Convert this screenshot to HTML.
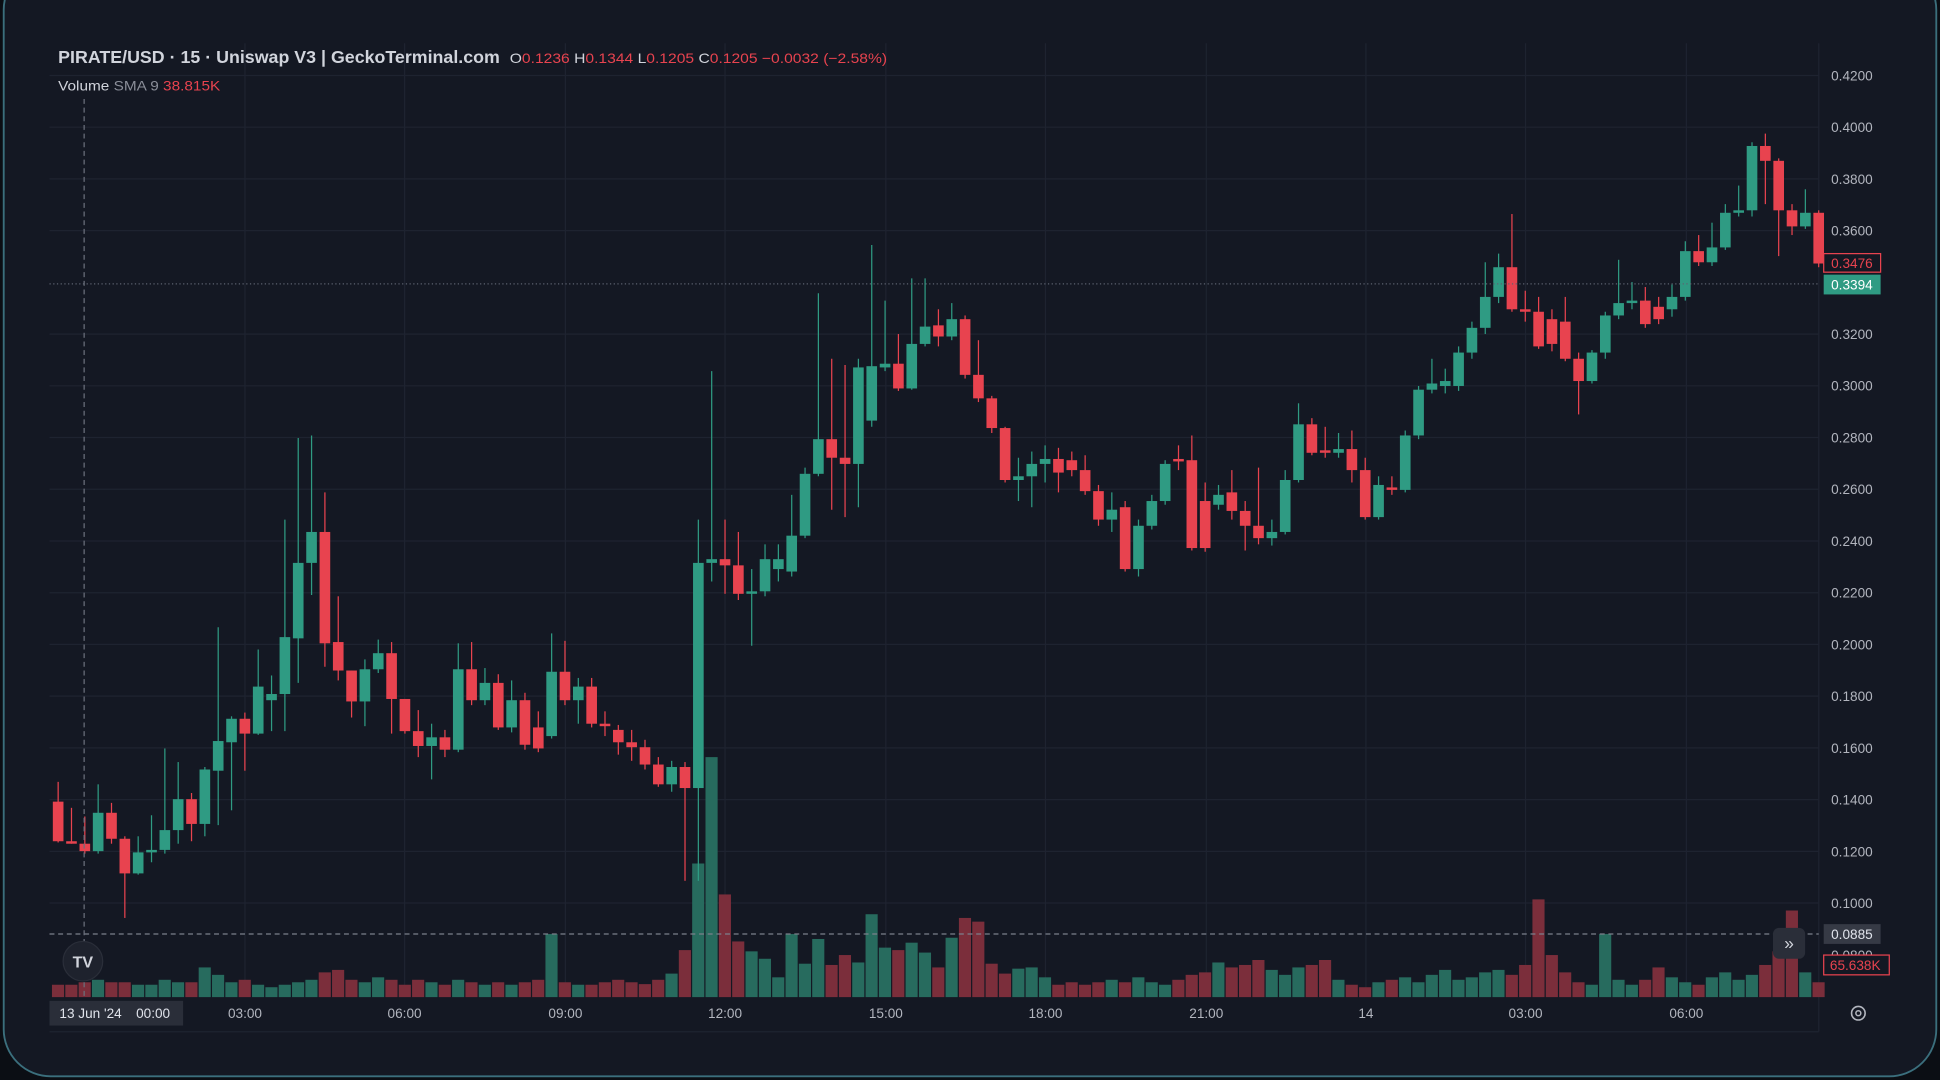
<!DOCTYPE html>
<html><head><meta charset="utf-8"><style>
html,body{margin:0;padding:0;background:#0b0e14;overflow:hidden}
svg{display:block}
text{font-family:"Liberation Sans",sans-serif}
</style></head><body>
<svg id="s" width="1940" height="1080" viewBox="0 0 1568 873" preserveAspectRatio="none" xmlns="http://www.w3.org/2000/svg">
<rect x="0" y="0" width="1568" height="873" fill="#0b0e14"/>
<rect x="3" y="-30" width="1562" height="900" rx="38" fill="#141823" stroke="#3b6f7d" stroke-width="1.5"/>
<g id="grid" stroke="#1e2330" stroke-width="1"></g>
<g id="vol"></g>
<g id="cd"></g>
<g id="ov"></g>
<g font-size="13" fill="#d1d4dc">
<text x="47" y="51" font-weight="bold" font-size="14" textLength="357" lengthAdjust="spacingAndGlyphs">PIRATE/USD · 15 · Uniswap V3 | GeckoTerminal.com</text>
<text x="412" y="51" font-size="11.5" textLength="305" lengthAdjust="spacingAndGlyphs"><tspan fill="#d1d4dc">O</tspan><tspan fill="#e8434f">0.1236 </tspan><tspan fill="#d1d4dc">H</tspan><tspan fill="#e8434f">0.1344 </tspan><tspan fill="#d1d4dc">L</tspan><tspan fill="#e8434f">0.1205 </tspan><tspan fill="#d1d4dc">C</tspan><tspan fill="#e8434f">0.1205 −0.0032 (−2.58%)</tspan></text>
<text x="47" y="73" font-size="11.5" textLength="131" lengthAdjust="spacingAndGlyphs"><tspan fill="#d1d4dc">Volume </tspan><tspan fill="#8a8e99">SMA 9 </tspan><tspan fill="#e8434f"> 38.815K</tspan></text>
</g>
</svg>
<script>
const NS="http://www.w3.org/2000/svg";
function el(p,t,a,txt){const e=document.createElementNS(NS,t);for(const k in a)e.setAttribute(k,a[k]);if(txt!==undefined)e.textContent=txt;document.getElementById(p).appendChild(e);return e;}
const prices=["0.4200","0.4000","0.3800","0.3600","0.3400","0.3200","0.3000","0.2800","0.2600","0.2400","0.2200","0.2000","0.1800","0.1600","0.1400","0.1200","0.1000"];
prices.forEach((p,i)=>{const y=61+i*41.81;if(p!=="0.3400"){el("grid","line",{x1:40,x2:1470,y1:y,y2:y});}
 if(p!=="0.3400")el("ov","text",{x:1480,y:y+4,"font-size":"11",fill:"#b2b5be"},p);});
const times=[[198,"03:00"],[327,"06:00"],[457,"09:00"],[586,"12:00"],[716,"15:00"],[845,"18:00"],[975,"21:00"],[1104,"14"],[1233,"03:00"],[1363,"06:00"]];
times.forEach(t=>{el("grid","line",{x1:t[0],x2:t[0],y1:35,y2:806});el("ov","text",{x:t[0],y:823,"font-size":"11",fill:"#b2b5be","text-anchor":"middle"},t[1]);});
el("grid","line",{x1:40,x2:1470,y1:834,y2:834});
el("grid","line",{x1:1470,x2:1470,y1:35,y2:834});
const C=[[648,680,632,681],[680,682,653,682],[682,688,660,690],[688,657,634,690],[657,678,649,682],[678,706,676,742],[706,689,676,707],[689,687,659,697],[687,671,605,690],[671,646,616,682],[646,666,641,680],[666,622,620,676],[623,599,507,667],[600,581,579,655],[581,593,576,623],[593,555,525,594],[566,561,546,591],[561,515,420,591],[516,455,354,552],[455,430,352,481],[430,520,398,539],[519,542,482,550],[542,567,542,580],[567,541,533,587],[541,528,517,544],[528,565,519,593],[565,591,565,593],[591,603,574,612],[603,596,585,630],[596,606,590,612],
[606,541,520,608],[541,566,519,570],[566,552,540,570],[552,588,545,590],[588,566,550,592],[566,602,560,606],[588,605,575,608],[595,543,512,597],[543,566,518,570],[566,555,548,585],[555,585,548,588],[585,587,575,595],[590,600,586,610],[600,604,590,615],[604,618,598,622],[618,634,612,636],[634,620,615,640],[620,637,616,712],[637,455,420,712],[455,452,300,470],[452,457,420,480],[457,480,430,485],[480,478,460,522],[478,452,440,482],[460,452,440,470],[462,433,400,466],[433,383,378,435],[383,355,237,385],[355,370,290,412],[370,375,295,418],[375,297,290,410],[340,296,198,345],[297,294,243,300],[294,314,270,316],[314,278,225,315],[278,264,225,280],[263,272,250,280],[272,258,245,275],[258,303,255,306],[303,322,275,325],[322,346,320,350],[346,388,345,390],[388,385,370,405],[385,375,365,410],[375,371,360,390],[371,382,362,398],[372,380,365,385],[380,397,368,400],[397,420,392,425],[420,412,398,430],[410,460,405,462],[460,425,420,466],[425,405,400,428],[405,375,372,408],[371,373,360,380],[372,443,352,445],[405,443,390,446],[408,400,392,412],[398,413,380,420],[413,425,405,445],[425,435,378,440],[435,430,420,441],[430,388,380,432],[388,343,326,390],[343,366,338,368],[364,366,345,370],[366,363,350,370],[363,380,348,390],[380,418,370,420],[418,392,385,420],[394,396,385,400],[396,352,348,398],[352,315,312,355],[315,310,290,318],[312,308,298,318],[312,285,280,316],[285,265,260,290],[265,240,212,270],[240,216,205,245],[216,250,173,252],[250,252,235,260],[252,280,240,282],[258,278,250,284],[260,290,240,292],[290,308,285,335],[308,285,283,310],[285,255,252,290],[255,245,210,258],[245,243,228,250],[243,262,232,265],[248,258,240,262],[250,240,230,256],[240,203,195,243],[203,212,190,215],[212,200,180,215],[200,172,165,202],[172,170,150,175],[170,118,115,175],[118,130,108,165],[130,170,128,207],[170,183,165,190],[183,172,153,185],[172,213,170,216]];
const V=[10,10,12,14,12,12,10,10,14,12,12,24,18,12,14,10,8,10,12,14,20,22,14,12,16,14,10,14,12,10,14,12,10,12,10,12,14,51,12,10,10,12,14,12,
10.5,14,19,38,108,194,83,45,37,31,16,51,27,47,26,34,28,67,40,38,44,36,24,48,64,61,27,19,23,24,
16,10,12,10,12,14,12,16,12,10,14,18,20,28,24,26,30,22,18,24,26,30,14,10,8,12,14,16,12,18,22,14,16,20,22,18,26,79,34,20,12,10,51,14,10,14,24,16,12,10,16,20,14,18,26,37,70,20,12,25];
C.forEach((c,i)=>{const x=47+i*10.78;const up=c[1]<c[0];const col=up?"#2f9b83":"#e8434f";
 const vh=V[i]||12;el("vol","rect",{x:x-5,y:806-vh,width:9.8,height:vh,fill:up?"#276b5e":"#7b2e3b"});
 el("cd","line",{x1:x,x2:x,y1:c[2],y2:c[3],stroke:col,"stroke-width":1});
 const t=Math.min(c[0],c[1]),h=Math.max(1.5,Math.abs(c[1]-c[0]));
 el("cd","rect",{x:x-4.3,y:t,width:8.6,height:h,fill:col});});
el("ov","line",{x1:40,x2:1470,y1:229.5,y2:229.5,stroke:"#5d6270","stroke-width":1,"stroke-dasharray":"1 2"});
el("ov","line",{x1:40,x2:1470,y1:755,y2:755,stroke:"#7b808c","stroke-width":1,"stroke-dasharray":"4 3"});
el("ov","line",{x1:68,x2:68,y1:80,y2:806,stroke:"#6b707c","stroke-width":1,"stroke-dasharray":"4 3"});
el("ov","text",{x:1480,y:776,"font-size":"11",fill:"#b2b5be"},"0.0800");
el("ov","rect",{x:1474,y:205,width:46,height:15,fill:"#141823",stroke:"#e8434f","stroke-width":1});
el("ov","text",{x:1480,y:216.5,"font-size":"11",fill:"#e8434f"},"0.3476");
el("ov","rect",{x:1474,y:222,width:46,height:16,fill:"#2f9b83"});
el("ov","text",{x:1480,y:234,"font-size":"11",fill:"#fff"},"0.3394");
el("ov","rect",{x:1474,y:747,width:46,height:16,fill:"#363a45"});
el("ov","text",{x:1480,y:759,"font-size":"11",fill:"#e0e3eb"},"0.0885");
el("ov","rect",{x:1474,y:772,width:53,height:16,fill:"#141823",stroke:"#e8434f","stroke-width":1});
el("ov","text",{x:1479,y:784,"font-size":"11",fill:"#e8434f"},"65.638K");
el("ov","rect",{x:1433,y:750,width:26,height:25,rx:5,fill:"#2a2e39"});
el("ov","text",{x:1446,y:767,"font-size":"14",fill:"#d1d4dc","text-anchor":"middle"},"»");
el("ov","circle",{cx:67,cy:777,r:16,fill:"#1e222d",stroke:"#2a2e39"});
el("ov","text",{x:67,y:782,"font-size":"13","font-weight":"bold",fill:"#d1d4dc","text-anchor":"middle"},"TV");
el("ov","rect",{x:40,y:809,width:108,height:20,fill:"#2a2e39"});
el("ov","text",{x:48,y:823,"font-size":"11",fill:"#e0e3eb"},"13 Jun '24");
el("ov","text",{x:110,y:823,"font-size":"11",fill:"#e0e3eb"},"00:00");
el("ov","circle",{cx:1502,cy:819,r:5.5,fill:"none",stroke:"#b2b5be","stroke-width":1.3});
el("ov","circle",{cx:1502,cy:819,r:2,fill:"none",stroke:"#b2b5be","stroke-width":1.2});
</script>
</body></html>
